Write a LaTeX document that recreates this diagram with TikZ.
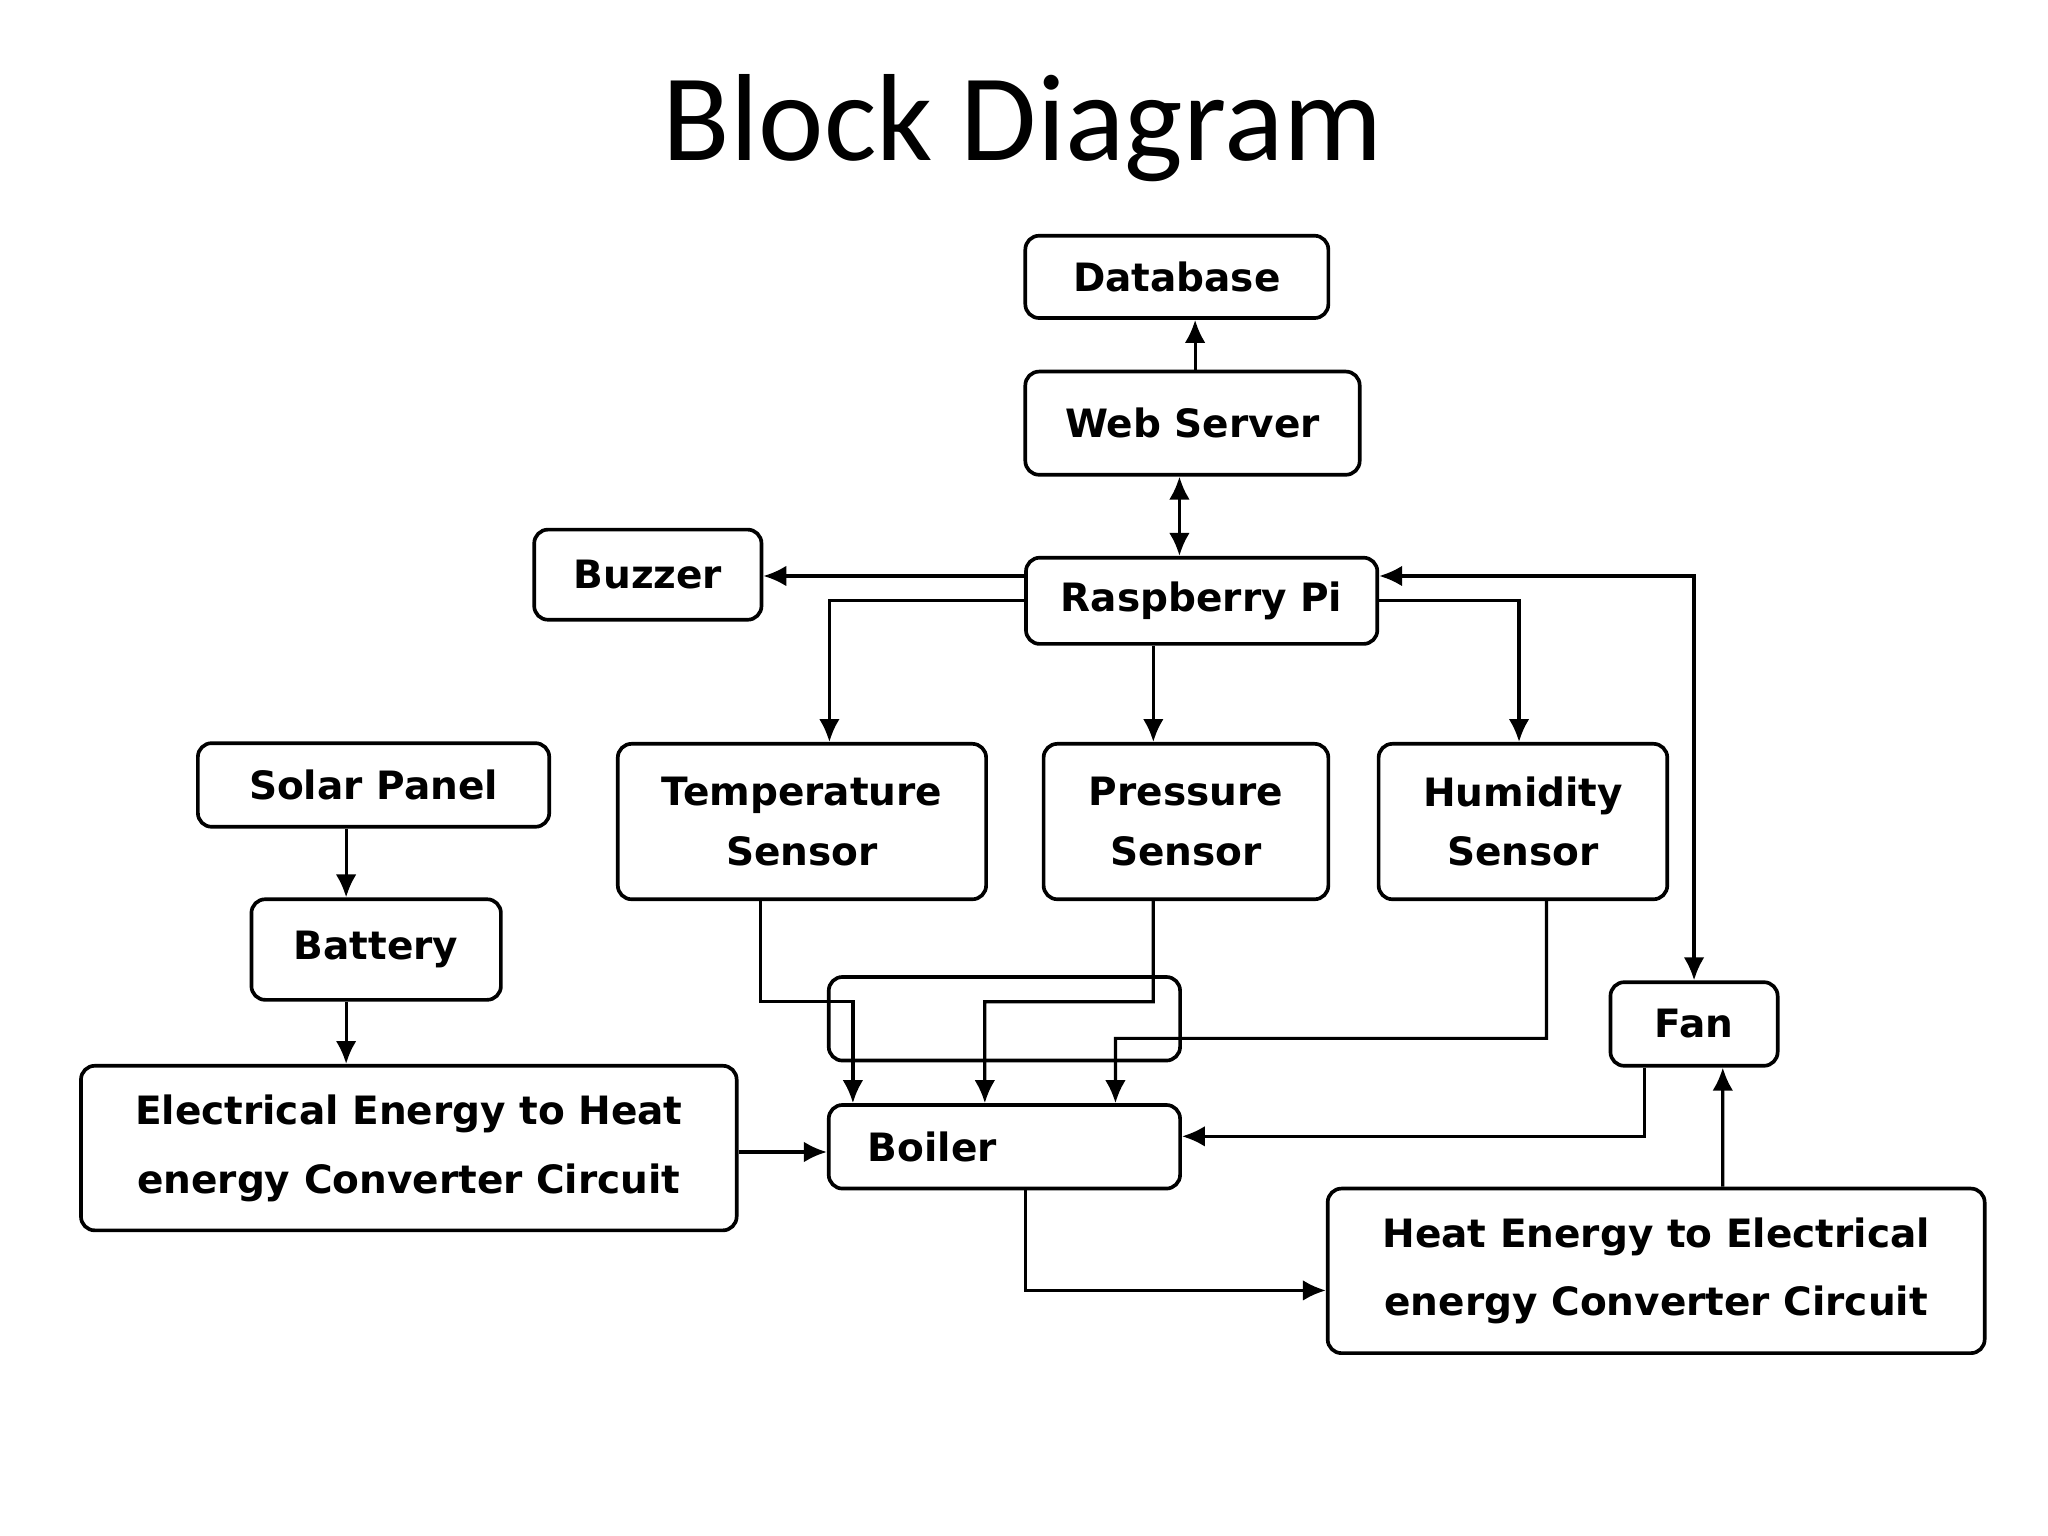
\documentclass[tikz,border=0pt]{standalone}
\usepackage{fontspec}
\setmainfont{DejaVu Sans}
\newfontfamily\titlefont{Carlito}
\usetikzlibrary{arrows.meta}
\begin{document}
\begin{tikzpicture}[
    blk/.style={draw, line width=0.8pt, rounded corners=3pt, align=center,
        inner sep=0pt, font=\fontsize{8.5}{13}\selectfont\bfseries},
    link/.style={draw, line width=0.7pt, -{Latex[length=5pt,width=4.5pt]}}
]
    \useasboundingbox (0,0) rectangle (15.68,-11.76);

    % Titolo
    \node (title) at (7.83,-0.98) {\titlefont\fontsize{27}{30}\selectfont Block Diagram};

    % Blocchi
    \node[blk, minimum width=2.32cm, minimum height=0.63cm] (db) at (9.01,-2.12) {Database};
    \node[blk, minimum width=2.56cm, minimum height=0.79cm] (web) at (9.13,-3.24) {Web Server};
    \node[blk, minimum width=1.74cm, minimum height=0.69cm] (buzzer) at (4.96,-4.40) {Buzzer};
    \node[blk, minimum width=2.69cm, minimum height=0.66cm] (rpi) at (9.20,-4.60) {Raspberry Pi};
    \node[blk, minimum width=2.69cm, minimum height=0.64cm] (solar) at (2.86,-6.01) {Solar Panel};
    \node[blk, minimum width=2.82cm, minimum height=1.19cm] (temp) at (6.14,-6.29) {Temperature\\Sensor};
    \node[blk, minimum width=2.18cm, minimum height=1.19cm] (press) at (9.08,-6.29) {Pressure\\Sensor};
    \node[blk, minimum width=2.21cm, minimum height=1.19cm] (humid) at (11.66,-6.29) {Humidity\\Sensor};
    \node[blk, minimum width=1.91cm, minimum height=0.77cm] (battery) at (2.88,-7.27) {Battery};
    \node[blk, minimum width=1.28cm, minimum height=0.64cm] (fan) at (12.97,-7.84) {Fan};
    \node[blk, minimum width=5.02cm, minimum height=1.26cm] (e2h) at (3.13,-8.79) {Electrical Energy to Heat\\[2pt]energy Converter Circuit};
    \node[blk, text width=2.09cm, inner xsep=0.3cm, align=left, minimum height=0.64cm] (boiler) at (7.69,-7.80) {};
    \node[blk, text width=2.09cm, inner xsep=0.3cm, align=left, minimum height=0.64cm] (boiler) at (7.69,-8.78) {Boiler};
    \node[blk, minimum width=5.03cm, minimum height=1.26cm] (h2e) at (12.68,-9.73) {Heat Energy to Electrical\\[2pt]energy Converter Circuit};

    % Collegamenti
    \draw[link] ([xshift=0.02cm]web.north) -- ([xshift=0.02cm]web.north |- db.south);
    \draw[link, {Latex[length=5pt,width=4.5pt]}-{Latex[length=5pt,width=4.5pt]}] ([xshift=-0.10cm]web.south) -- ([xshift=-0.10cm]web.south |- rpi.north);
    \draw[link] ([yshift=0.19cm]rpi.west) -- ([yshift=0.19cm]rpi.west -| buzzer.east);
    \draw[link] (rpi.west) -| ([xshift=0.21cm]temp.north);
    \draw[link] ([xshift=-0.37cm]rpi.south) -- ([xshift=-0.37cm]rpi.south |- press.north);
    \draw[link] (rpi.east) -| ([xshift=-0.03cm]humid.north);
    \draw[link, {Latex[length=5pt,width=4.5pt]}-{Latex[length=5pt,width=4.5pt]}] ([yshift=0.19cm]rpi.east) -| (fan.north);
    \draw[link] ([xshift=-0.21cm]solar.south) -- ([xshift=-0.21cm]solar.south |- battery.north);
    \draw[link] ([xshift=-0.23cm]battery.south) -- ([xshift=-0.23cm]battery.south |- e2h.north);
    \draw[link] ([yshift=-0.03cm]e2h.east) -- ([yshift=-0.03cm]e2h.east -| boiler.west);
    \draw[link] ([xshift=-0.32cm]temp.south) |- (6.53,-7.67) -- ([xshift=-1.16cm]boiler.north);
    \draw[link] ([xshift=-0.25cm]press.south) |- (7.54,-7.67) -- ([xshift=-0.15cm]boiler.north);
    \draw[link] ([xshift=0.18cm]humid.south) |- (8.54,-7.95) -- ([xshift=0.85cm]boiler.north);
    \draw[link] ([xshift=-0.38cm]fan.south) |- ([yshift=0.08cm]boiler.east);
    \draw[link] ([xshift=0.51cm]h2e.north) -- ([xshift=0.22cm]fan.south);
    \draw[link] ([xshift=0.16cm]boiler.south) |- ([yshift=-0.15cm]h2e.west);
\end{tikzpicture}
\end{document}
